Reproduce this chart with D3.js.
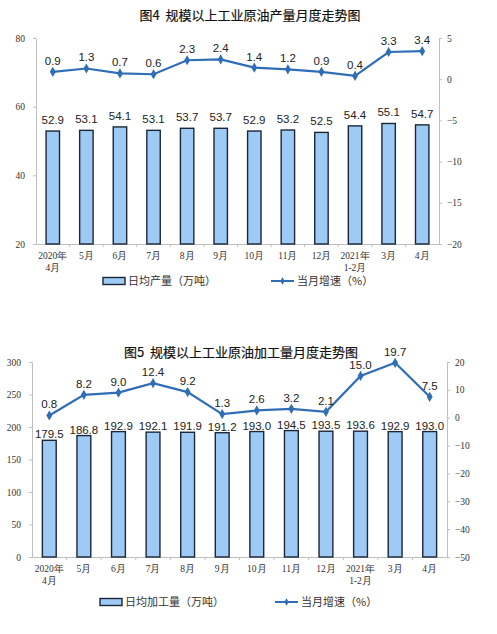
<!DOCTYPE html>
<html>
<head>
<meta charset="utf-8">
<script src="https://cdn.jsdelivr.net/npm/d3@7"></script>
<style>
  html, body { margin: 0; padding: 0; background: #fff; }
  svg { display: block; }
</style>
</head>
<body>
<svg id="chart" width="497" height="634"></svg>
<script>
// Month categories shared by both panels
const months = ['2020年|4月', '5月', '6月', '7月', '8月', '9月', '10月', '11月', '12月', '2021年|1-2月', '3月', '4月'];

// 图4: crude oil output (10k t / day) and y/y growth (%)
const outputDaily = [52.9, 53.1, 54.1, 53.1, 53.7, 53.7, 52.9, 53.2, 52.5, 54.4, 55.1, 54.7];
const outputGrowth = [0.9, 1.3, 0.7, 0.6, 2.3, 2.4, 1.4, 1.2, 0.9, 0.4, 3.3, 3.4];
const outputLeftTicks = [20, 40, 60, 80];
const outputRightTicks = [-20, -15, -10, -5, 0, 5];

// 图5: crude oil processing (10k t / day) and y/y growth (%)
const processDaily = [179.5, 186.8, 192.9, 192.1, 191.9, 191.2, 193.0, 194.5, 193.5, 193.6, 192.9, 193.0];
const processGrowth = [0.8, 8.2, 9.0, 12.4, 9.2, 1.3, 2.6, 3.2, 2.1, 15.0, 19.7, 7.5];
const processLeftTicks = [0, 50, 100, 150, 200, 250, 300];
const processRightTicks = [-50, -40, -30, -20, -10, 0, 10, 20];

const BAR_FILL = '#9dcbf6';
const BAR_STROKE = '#1c2636';
const LINE_COLOR = '#2f6db6';
const AXIS_COLOR = '#bfbfbf';
const CJK = '"Noto Sans CJK SC", sans-serif';
const NUM = '"Liberation Sans", Arial, sans-serif';
const SERIF = '"Liberation Serif", "DejaVu Serif", serif';

const svg = d3.select('#chart');

/**
 * Draw one bar + line panel with two y axes.
 */
function drawPanel(opts) {
    const { title, titleX, titleY, left, right, top, bottom, bars, line, leftTicks, rightTicks,
            barLabelGap, legendY, barLegend, lineLegend, barLegendX, lineLegendX } = opts;
    const g = svg.append('g');

    const x = d3.scaleBand().domain(months).range([left, right]).paddingInner(0).paddingOuter(0);
    const yL = d3.scaleLinear().domain(d3.extent(leftTicks)).range([bottom, top]);
    const yR = d3.scaleLinear().domain(d3.extent(rightTicks)).range([bottom, top]);
    const barW = x.bandwidth() * 0.4;
    const cx = m => x(m) + x.bandwidth() / 2;

    // title (keep the double space after the figure number)
    g.append('text')
        .attr('x', titleX).attr('y', titleY)
        .attr('text-anchor', 'middle')
        .style('white-space', 'pre')
        .style('font-family', CJK).style('font-size', '13px').style('font-weight', 'normal')
        .attr('fill', '#111')
        .attr('stroke', '#111').attr('stroke-width', 0.2)
        .text(title);

    // axes
    const leftAxis = g.append('g').attr('transform', `translate(${left},0)`)
        .call(d3.axisLeft(yL).tickValues(leftTicks).tickSize(3).tickPadding(8));
    const rightAxis = g.append('g').attr('transform', `translate(${right},0)`)
        .call(d3.axisRight(yR).tickValues(rightTicks).tickSize(3).tickPadding(5));
    const xAxis = g.append('g').attr('transform', `translate(0,${bottom})`)
        .call(d3.axisBottom(x).tickSize(0).tickFormat(''));
    [leftAxis, rightAxis, xAxis].forEach(a => {
        a.selectAll('path, line').attr('stroke', AXIS_COLOR);
        a.selectAll('text').style('font-family', SERIF).style('font-size', '9.5px').attr('fill', '#333');
    });

    // small ticks between categories
    g.append('g').selectAll('line')
        .data(months.slice(1))
        .join('line')
        .attr('x1', d => x(d)).attr('x2', d => x(d))
        .attr('y1', bottom).attr('y2', bottom + 3)
        .attr('stroke', AXIS_COLOR);

    // category labels (two lines where needed)
    const lab = g.append('g').selectAll('text')
        .data(months)
        .join('text')
        .attr('x', cx)
        .attr('y', bottom + 15)
        .attr('text-anchor', 'middle')
        .style('font-family', SERIF).style('font-size', '9.5px')
        .attr('fill', '#333');
    lab.each(function (d) {
        const parts = d.split('|');
        d3.select(this).selectAll('tspan')
            .data(parts)
            .join('tspan')
            .attr('x', cx(d))
            .attr('dy', (p, i) => i === 0 ? 0 : 12)
            .text(p => p);
    });

    // bars
    g.append('g').selectAll('rect')
        .data(bars)
        .join('rect')
        .attr('x', (d, i) => cx(months[i]) - barW / 2)
        .attr('y', d => yL(d))
        .attr('width', barW)
        .attr('height', d => bottom - yL(d))
        .attr('fill', BAR_FILL)
        .attr('stroke', BAR_STROKE)
        .attr('stroke-width', 1.4);

    g.append('g').selectAll('text')
        .data(bars)
        .join('text')
        .attr('x', (d, i) => cx(months[i]))
        .attr('y', d => yL(d) - barLabelGap)
        .attr('text-anchor', 'middle')
        .style('font-family', NUM).style('font-size', '11.5px')
        .attr('fill', '#222')
        .text(d => d.toFixed(1));

    // growth line
    const lineGen = d3.line().x((d, i) => cx(months[i])).y(d => yR(d));
    g.append('path')
        .datum(line)
        .attr('d', lineGen)
        .attr('fill', 'none')
        .attr('stroke', LINE_COLOR)
        .attr('stroke-width', 2.2);

    const diamond = d3.symbol().type(d3.symbolDiamond).size(30);
    g.append('g').selectAll('path')
        .data(line)
        .join('path')
        .attr('d', diamond)
        .attr('transform', (d, i) => `translate(${cx(months[i])},${yR(d)})`)
        .attr('fill', LINE_COLOR);

    g.append('g').selectAll('text')
        .data(line)
        .join('text')
        .attr('x', (d, i) => cx(months[i]))
        .attr('y', d => yR(d) - 7)
        .attr('text-anchor', 'middle')
        .style('font-family', NUM).style('font-size', '11.5px')
        .attr('fill', '#222')
        .text(d => d.toFixed(1));

    // legend
    const leg = g.append('g');
    leg.append('rect')
        .attr('x', barLegendX).attr('y', legendY - 3.5)
        .attr('width', 22).attr('height', 7)
        .attr('fill', BAR_FILL).attr('stroke', BAR_STROKE).attr('stroke-width', 1.4);
    leg.append('text')
        .attr('x', barLegendX + 25).attr('y', legendY + 4)
        .style('font-family', CJK).style('font-size', '11px').attr('fill', '#333')
        .text(barLegend);
    leg.append('line')
        .attr('x1', lineLegendX).attr('x2', lineLegendX + 23)
        .attr('y1', legendY).attr('y2', legendY)
        .attr('stroke', LINE_COLOR).attr('stroke-width', 2);
    leg.append('path')
        .attr('d', d3.symbol().type(d3.symbolDiamond).size(16))
        .attr('transform', `translate(${lineLegendX + 11.5},${legendY})`)
        .attr('fill', LINE_COLOR);
    leg.append('text')
        .attr('x', lineLegendX + 26).attr('y', legendY + 4)
        .style('font-family', CJK).style('font-size', '11px').attr('fill', '#333')
        .text(lineLegend);
}

drawPanel({
    title: '图4  规模以上工业原油产量月度走势图',
    titleX: 250, titleY: 20,
    left: 36, right: 439, top: 38, bottom: 244,
    bars: outputDaily, line: outputGrowth,
    leftTicks: outputLeftTicks, rightTicks: outputRightTicks,
    barLabelGap: 7,
    legendY: 281, barLegendX: 103, lineLegendX: 271,
    barLegend: '日均产量（万吨）', lineLegend: '当月增速（%）'
});

drawPanel({
    title: '图5  规模以上工业原油加工量月度走势图',
    titleX: 241, titleY: 357,
    left: 32, right: 447, top: 362, bottom: 557,
    bars: processDaily, line: processGrowth,
    leftTicks: processLeftTicks, rightTicks: processRightTicks,
    barLabelGap: 2,
    legendY: 602, barLegendX: 100, lineLegendX: 275,
    barLegend: '日均加工量（万吨）', lineLegend: '当月增速（%）'
});
</script>
</body>
</html>
